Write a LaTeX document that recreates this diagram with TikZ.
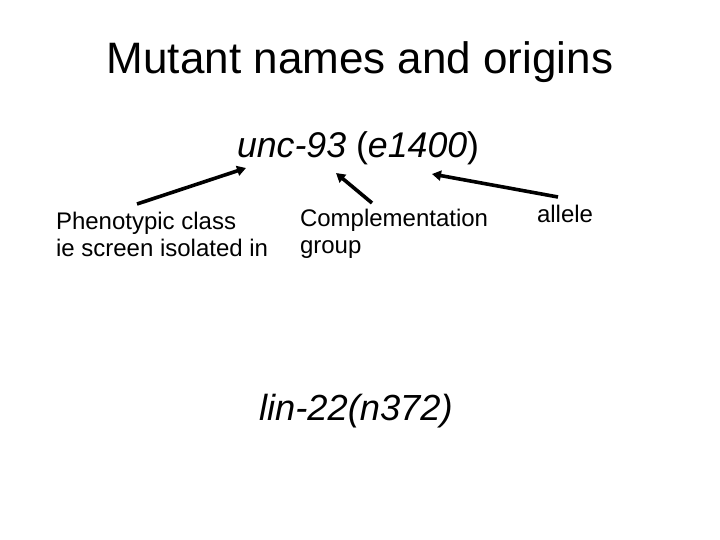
\documentclass[tikz,border=0pt]{standalone}
\usepackage{fontspec}
\setmainfont{Liberation Sans}
\usetikzlibrary{arrows.meta}

\begin{document}
\begin{tikzpicture}[x=1pt,y=-1pt]
                \tikzset{%
                    inner sep=0pt,%
                    outer sep=0pt,%
                    label text/.style=
                    {font=\fontsize{24}{27}\selectfont,align=left},
                    name arrow/.style=
                    {line width=3.6pt,-{Triangle[length=9pt,width=10pt]}}%
                        }
            \useasboundingbox (0,0) rectangle (720,540);
	        {
                \node[anchor=base,font=\fontsize{44}{50}\selectfont] (title) at (360,74)
                {Mutant names and origins};
                \node[anchor=base west,font=\fontsize{35.7}{40}\selectfont] (unc) at (237,158)
                {\textit{unc-93} (\textit{e1400})};
                \node[anchor=base west,font=\fontsize{36.3}{40}\selectfont] (lin) at (259,420)
                {\textit{lin-22(n372)}};
                % labels under the gene name
                \node[label text,anchor=north west] (phen) at (56,212)
                {Phenotypic class\\ie screen isolated in};
                \node[label text,anchor=north west] (compl) at (300,209)
                {Complementation\\group};
                \node[label text,anchor=north west] (allele) at (537,205)
                {allele};
                % arrow ends
                \coordinate (phen tail) at (137,204);
                \coordinate (phen head) at (246,168);
                \coordinate (compl tail) at (372,203);
                \coordinate (compl head) at (336,173);
                \coordinate (allele tail) at (558,197);
                \coordinate (allele head) at (432,174);
                \draw[name arrow] (phen tail) -- (phen head);
                \draw[name arrow] (compl tail) -- (compl head);
                \draw[name arrow] (allele tail) -- (allele head);
            }
\end{tikzpicture}
\end{document}
